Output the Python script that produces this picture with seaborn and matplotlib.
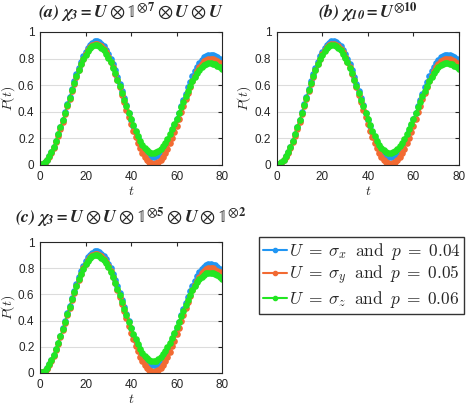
import numpy as np
import pandas as pd
import seaborn as sns
import matplotlib.pyplot as plt
from matplotlib.lines import Line2D
from matplotlib.font_manager import FontProperties

# time axis and the three read-off curves (same in all panels)
t = list(range(0, 81))

p_x = [0.000, 0.005, 0.018, 0.038, 0.065, 0.098, 0.137, 0.182, 0.231, 0.284,
       0.340, 0.397, 0.456, 0.514, 0.572, 0.628, 0.681, 0.731, 0.777, 0.817,
       0.853, 0.882, 0.904, 0.920, 0.929, 0.930, 0.925, 0.912, 0.893, 0.867,
       0.836, 0.799, 0.757, 0.711, 0.662, 0.610, 0.557, 0.502, 0.448, 0.394,
       0.342, 0.293, 0.247, 0.204, 0.167, 0.134, 0.107, 0.086, 0.071, 0.062,
       0.060, 0.064, 0.075, 0.092, 0.115, 0.143, 0.176, 0.213, 0.254, 0.298,
       0.344, 0.392, 0.441, 0.489, 0.537, 0.583, 0.627, 0.668, 0.706, 0.739,
       0.768, 0.792, 0.810, 0.822, 0.829, 0.830, 0.828, 0.822, 0.810, 0.795,
       0.778]

p_y = [0.000, 0.004, 0.016, 0.034, 0.060, 0.092, 0.130, 0.173, 0.221, 0.273,
       0.327, 0.384, 0.441, 0.499, 0.556, 0.611, 0.664, 0.713, 0.758, 0.799,
       0.833, 0.862, 0.885, 0.900, 0.909, 0.910, 0.904, 0.892, 0.872, 0.846,
       0.814, 0.776, 0.734, 0.687, 0.637, 0.584, 0.529, 0.473, 0.417, 0.362,
       0.308, 0.257, 0.209, 0.165, 0.125, 0.091, 0.062, 0.039, 0.023, 0.013,
       0.010, 0.014, 0.024, 0.040, 0.062, 0.091, 0.124, 0.162, 0.203, 0.248,
       0.296, 0.345, 0.395, 0.445, 0.494, 0.543, 0.588, 0.631, 0.670, 0.705,
       0.735, 0.760, 0.779, 0.792, 0.799, 0.800, 0.798, 0.790, 0.780, 0.770,
       0.758]

p_z = [0.000, 0.006, 0.019, 0.039, 0.066, 0.099, 0.138, 0.182, 0.231, 0.282,
       0.337, 0.393, 0.450, 0.506, 0.562, 0.616, 0.667, 0.715, 0.758, 0.797,
       0.830, 0.857, 0.878, 0.892, 0.899, 0.900, 0.894, 0.881, 0.862, 0.838,
       0.807, 0.772, 0.732, 0.688, 0.642, 0.593, 0.543, 0.492, 0.442, 0.392,
       0.344, 0.299, 0.256, 0.218, 0.184, 0.154, 0.130, 0.111, 0.098, 0.091,
       0.090, 0.095, 0.105, 0.121, 0.142, 0.168, 0.198, 0.232, 0.268, 0.308,
       0.349, 0.391, 0.434, 0.477, 0.519, 0.559, 0.597, 0.632, 0.664, 0.692,
       0.716, 0.736, 0.751, 0.760, 0.765, 0.765, 0.763, 0.757, 0.747, 0.735,
       0.720]

labels = [r"$U\;=\;\sigma_x\;\;\mathrm{and}\;\;p\;=\;0.04$",
          r"$U\;=\;\sigma_y\;\;\mathrm{and}\;\;p\;=\;0.05$",
          r"$U\;=\;\sigma_z\;\;\mathrm{and}\;\;p\;=\;0.06$"]
colors = ["#2196F3", "#F26A32", "#22E622"]

titles = [r"$\mathbfit{(a)\ \chi_3 = U} \otimes \mathbb{1}^{\otimes \mathbf{7}} \otimes \mathbfit{U} \otimes \mathbfit{U}$",
          r"$\mathbfit{(b)\ \chi_{10} = U}^{\otimes \mathbf{10}}$",
          r"$\mathbfit{(c)\ \chi_3 = U} \otimes \mathbfit{U} \otimes \mathbb{1}^{\otimes \mathbf{5}} \otimes \mathbfit{U} \otimes \mathbb{1}^{\otimes \mathbf{2}}$"]
title_pads = [10, 10, 14]

df = pd.concat([pd.DataFrame({"t": t, "P": p, "series": lab})
                for p, lab in zip([p_x, p_y, p_z], labels)])

sns.set_theme(style="white")
plt.rcParams["font.family"] = ["Liberation Sans", "DejaVu Sans"]
plt.rcParams["mathtext.fontset"] = "stix"

fig = plt.figure(figsize=(4.74, 4.08), dpi=100)
boxes = [[0.0844, 0.5956, 0.384, 0.326],
         [0.584, 0.5956, 0.384, 0.326],
         [0.0844, 0.0858, 0.384, 0.321]]

for box, title, tpad in zip(boxes, titles, title_pads):
    ax = fig.add_axes(box)
    sns.lineplot(data=df, x="t", y="P", hue="series", hue_order=labels,
                 palette=colors, marker="o", markersize=4.8, markeredgewidth=0,
                 linewidth=1, legend=False, ax=ax)
    ax.set_xlim(0, 80)
    ax.set_ylim(0, 1)
    ax.set_xticks([0, 20, 40, 60, 80])
    ax.set_yticks([0, 0.2, 0.4, 0.6, 0.8, 1])
    ax.set_yticklabels(["0", "0.2", "0.4", "0.6", "0.8", "1"])
    ax.yaxis.grid(True, color="#DCDCDC", linewidth=0.8)
    ax.set_axisbelow(True)
    ax.tick_params(direction="in", length=3, width=0.8, labelsize=8.5,
                   top=True, right=True, colors="#262626", pad=4)
    for sp in ax.spines.values():
        sp.set_color("#262626")
        sp.set_linewidth(0.8)
    ax.set_xlabel(r"$t$", fontsize=10, labelpad=1, math_fontfamily="cm")
    ax.set_ylabel(r"$P(t)$", fontsize=10, labelpad=1, math_fontfamily="cm")
    ax.set_title(title, fontsize=13, pad=tpad)

handles = [Line2D([0], [0], color=c, lw=1.5, marker="o", markersize=3)
           for c in colors]
leg = fig.legend(handles, labels, loc="center",
                 bbox_to_anchor=(0.763, 0.325),
                 prop=FontProperties(size=12.5, math_fontfamily="cm"),
                 frameon=True, fancybox=False, handlelength=1.4,
                 handletextpad=0.1, borderpad=0.2, labelspacing=0.12,
                 borderaxespad=0)
leg.get_frame().set_edgecolor("black")
leg.get_frame().set_linewidth(1.0)

fig.savefig("out.png", dpi=100)
